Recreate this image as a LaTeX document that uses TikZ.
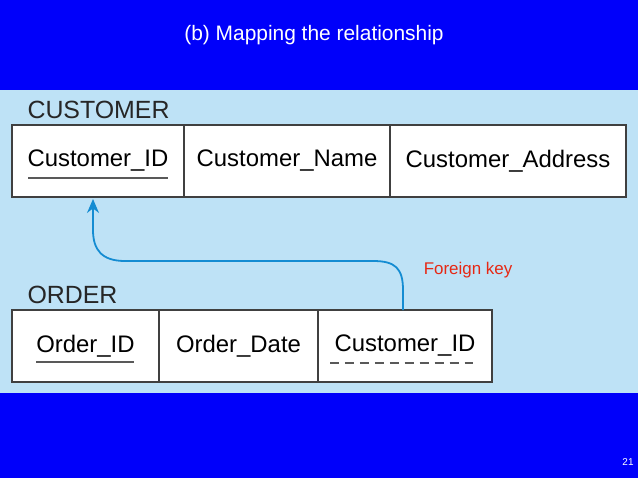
\documentclass[tikz,border=0pt]{standalone}
\usepackage{fontspec}
\usetikzlibrary{arrows.meta}
\setmainfont{Liberation Sans}
\definecolor{bgblue}{RGB}{0,0,250}
\definecolor{panel}{RGB}{190,226,246}
\definecolor{arr}{RGB}{20,140,210}
\definecolor{fk}{RGB}{230,40,20}
\begin{document}
\begin{tikzpicture}[x=1bp,y=-1bp,
  cell/.style={draw=black!75,line width=1.2pt,fill=white,minimum height=72bp,inner sep=0pt,font=\fontsize{24}{26}\selectfont},
  lbl/.style={anchor=west,font=\fontsize{25}{27}\selectfont,text=black!85},
  ul/.style={line width=1.5pt,black!65}]
\fill[bgblue] (0,0) rectangle (638,478);
\useasboundingbox (0,0) rectangle (638,478);
\fill[panel] (0,90) rectangle (638,393);
\node[text=white,font=\fontsize{21}{23}\selectfont] (title) at (314,35) {(b) Mapping the relationship};
\node[text=white,font=\fontsize{10}{11}\selectfont\rmfamily] (pg) at (628,462) {21};
\node[lbl] (cust) at (24,110) {CUSTOMER};
\node[cell,minimum width=172bp] (c1) at (98,161) {Customer\_ID};
\node[cell,minimum width=206bp] (c2) at (287,161) {Customer\_Name};
\node[cell,minimum width=236bp] (c3) at (508,161) {Customer\_Address};
\draw[ul] (28,178) -- (168,178);
\node[lbl] (ord) at (24,295) {ORDER};
\node[cell,minimum width=147bp] (o1) at (85.5,346) {Order\_ID};
\node[cell,minimum width=159bp] (o2) at (238.5,346) {Order\_Date};
\node[cell,minimum width=174bp] (o3) at (405,346) {Customer\_ID};
\draw[ul] (36,362) -- (134,362);
\draw[ul,dashed,dash pattern=on 9pt off 6pt] (330,363) -- (474,363);
\coordinate (s) at (403,310);
\coordinate (t) at (93,199);
\draw[arr,line width=1.8pt,-{Stealth[length=14pt,width=12pt]}] (s) -- (403,290) .. controls (403,268) and (395,261) .. (373,261) -- (125,261) .. controls (102,261) and (93,250) .. (93,230) -- (t);
\node[text=fk,font=\fontsize{17}{19}\selectfont] (fkl) at (468,270) {Foreign key};
\end{tikzpicture}
\end{document}
